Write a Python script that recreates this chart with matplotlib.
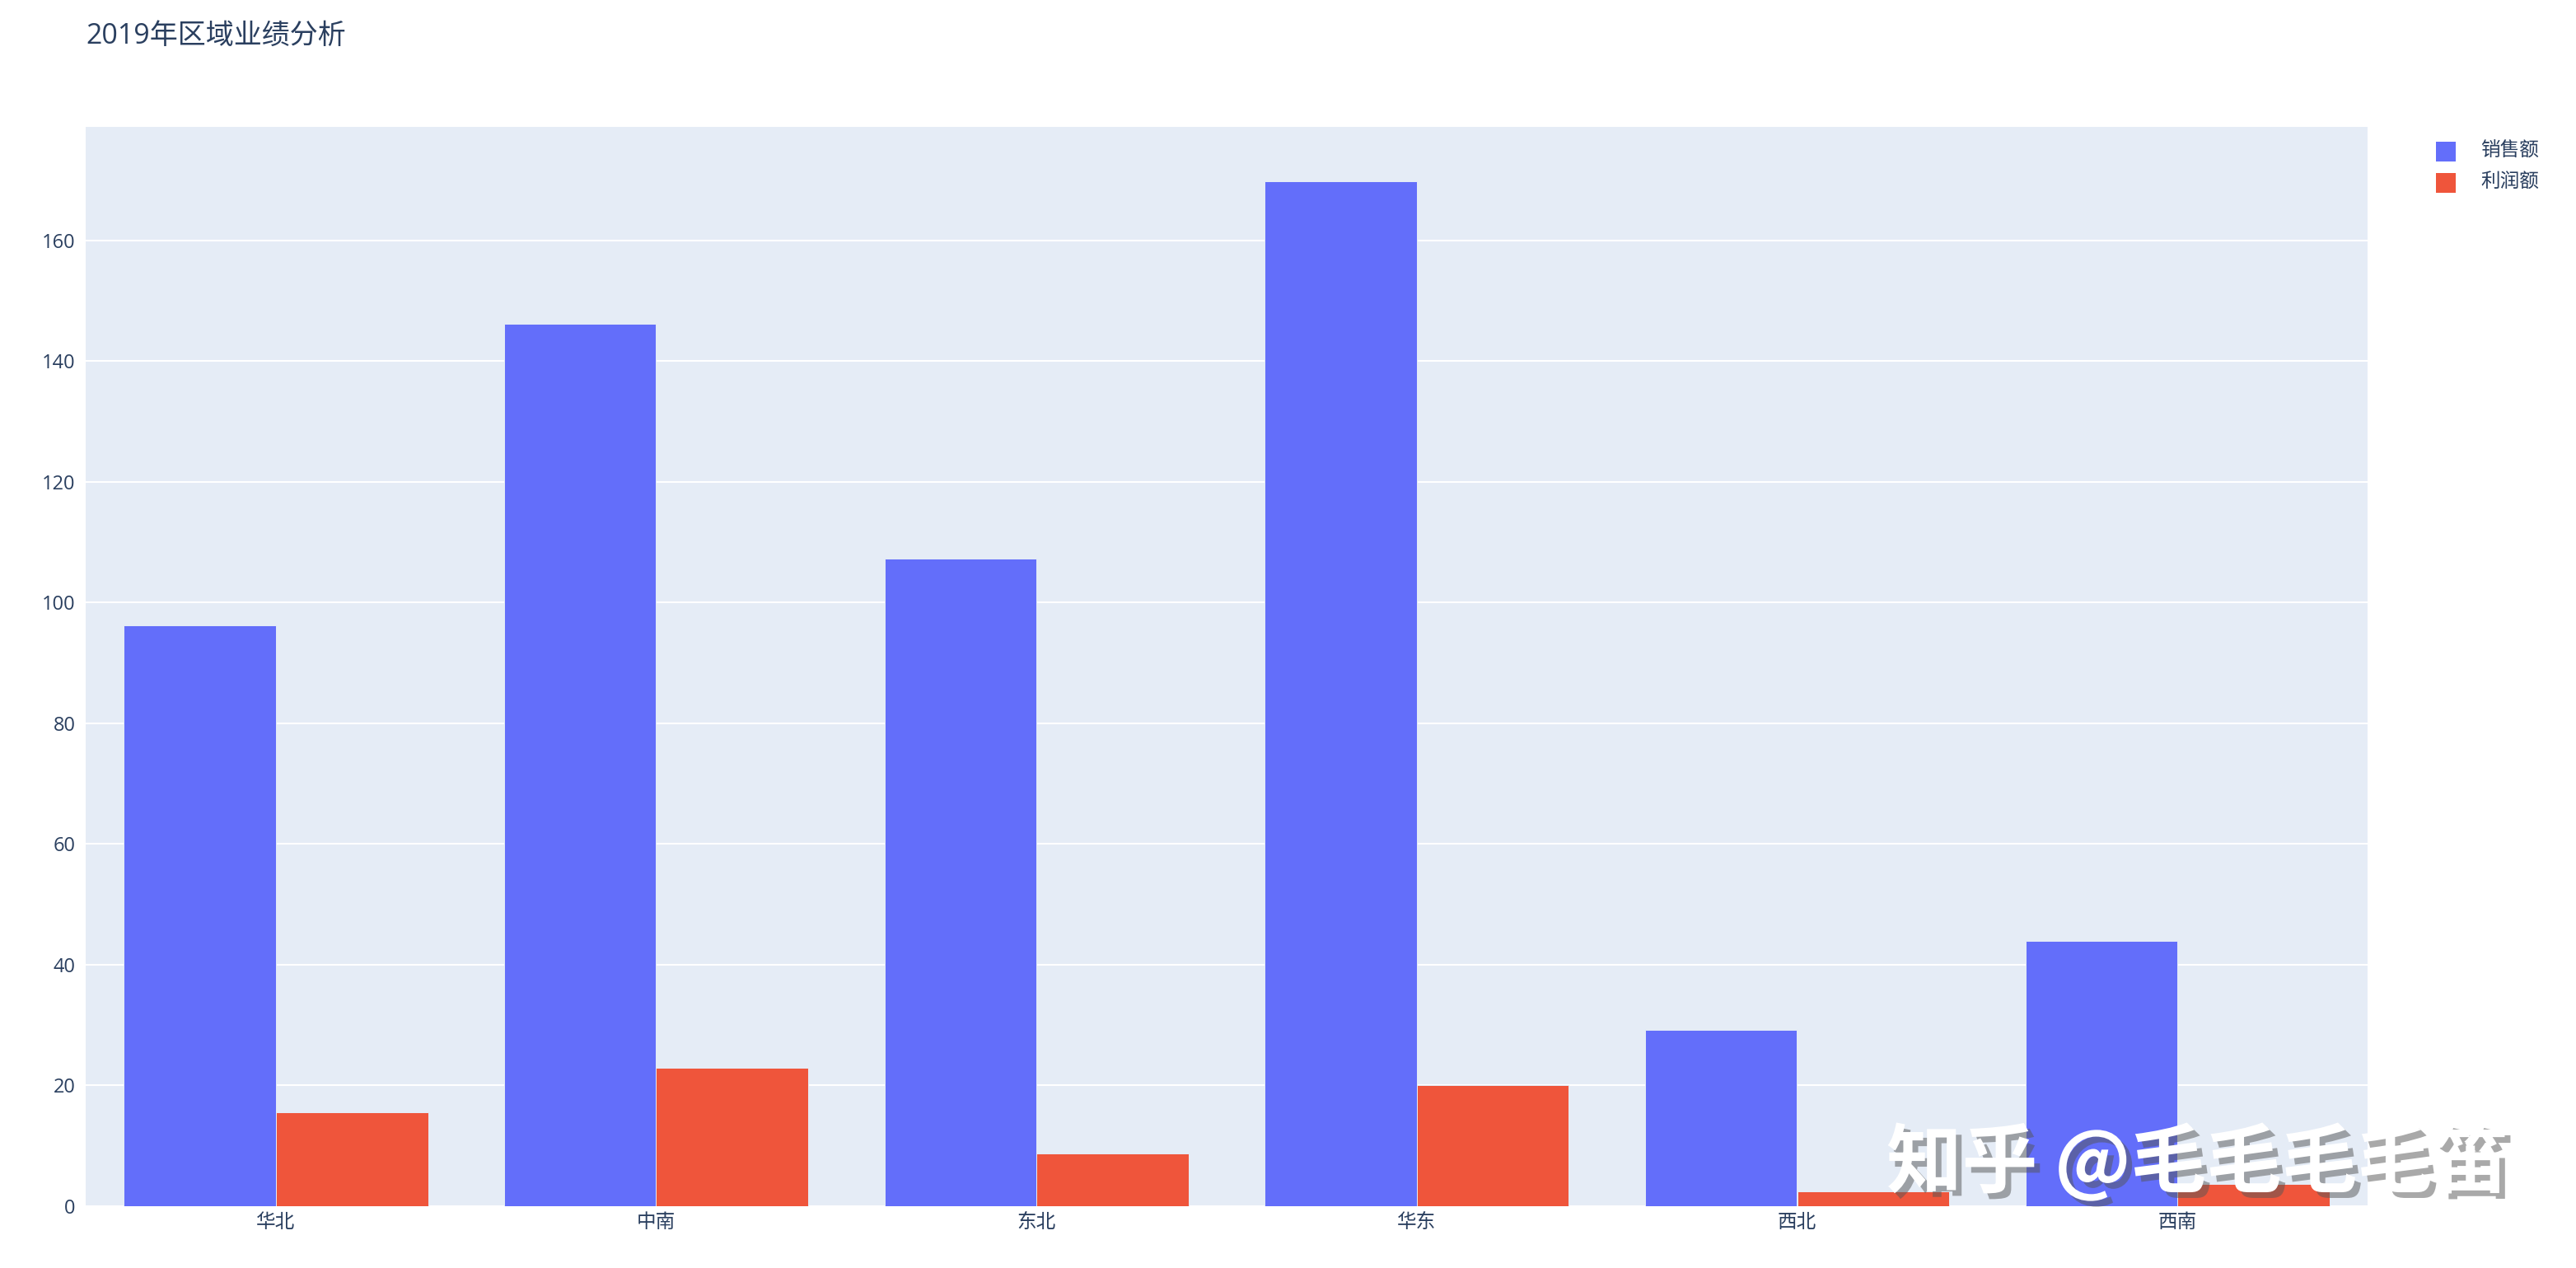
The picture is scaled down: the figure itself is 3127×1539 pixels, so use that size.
import numpy as np
import matplotlib
matplotlib.use('Agg')
import matplotlib.pyplot as plt
from matplotlib.patches import Rectangle
import matplotlib.patheffects as pe

plt.rcParams['font.family'] = ['Open Sans', 'Noto Sans CJK SC', 'DejaVu Sans']

# data
regions = ['华北', '中南', '东北', '华东', '西北', '西南']
sales = [96.2, 146.2, 107.3, 169.8, 29.2, 43.9]
profit = [15.5, 22.9, 8.8, 20.0, 2.5, 3.7]
series_names = ['销售额', '利润额']
colors = ['#636EFA', '#EF553B']
yticks = [0, 20, 40, 60, 80, 100, 120, 140, 160]

W, H = 3127, 1539
fig = plt.figure(figsize=(W / 100, H / 100), dpi=100)
fc = '#2a3f5f'

# plot area in pixels
left, right, top, bottom = 104, 2874, 154, 1464
ax = fig.add_axes([left / W, 1 - bottom / H, (right - left) / W, (bottom - top) / H])
ax.set_facecolor('#E5ECF6')
for s in ax.spines.values():
    s.set_visible(False)

x = np.arange(len(regions))
bw = 0.4
ax.bar(x - bw / 2, sales, bw, color=colors[0], edgecolor='#E5ECF6', linewidth=0.7, zorder=3)
ax.bar(x + bw / 2, profit, bw, color=colors[1], edgecolor='#E5ECF6', linewidth=0.7, zorder=3)

ax.set_xlim(-0.5, len(regions) - 0.5)
ax.set_ylim(0, 178.8)
ax.set_yticks(yticks)
ax.set_xticks(x)
ax.set_xticklabels(regions)
ax.tick_params(axis='both', length=0, labelsize=17, labelcolor=fc)
ax.tick_params(axis='y', pad=9)
ax.tick_params(axis='x', pad=6)
ax.grid(axis='y', color='white', linewidth=1.5, zorder=1)
ax.set_axisbelow(True)

# title
fig.text(104 / W, 1 - 44 / H, '2019年区域业绩分析', fontsize=24.5, color=fc, ha='left', va='center')

# legend
for i, name in enumerate(series_names):
    yc = 184 + i * 38
    fig.patches.append(Rectangle((2957 / W, 1 - (yc + 12) / H), 24 / W, 24 / H,
                                 transform=fig.transFigure, facecolor=colors[i], edgecolor='none'))
    fig.text(3011 / W, 1 - yc / H, name, fontsize=17, color=fc, ha='left', va='center')

# watermark
fig.text(2290 / W, 1 - 1412 / H, '知乎 @毛毛毛毛笛', fontsize=66, fontweight='bold',
         family=['Noto Sans CJK SC', 'DejaVu Sans'], color='white', ha='left', va='center',
         path_effects=[pe.withSimplePatchShadow(offset=(5, -5), shadow_rgbFace='#555555', alpha=0.5)],
         zorder=10)

fig.savefig('out.png', dpi=100)
